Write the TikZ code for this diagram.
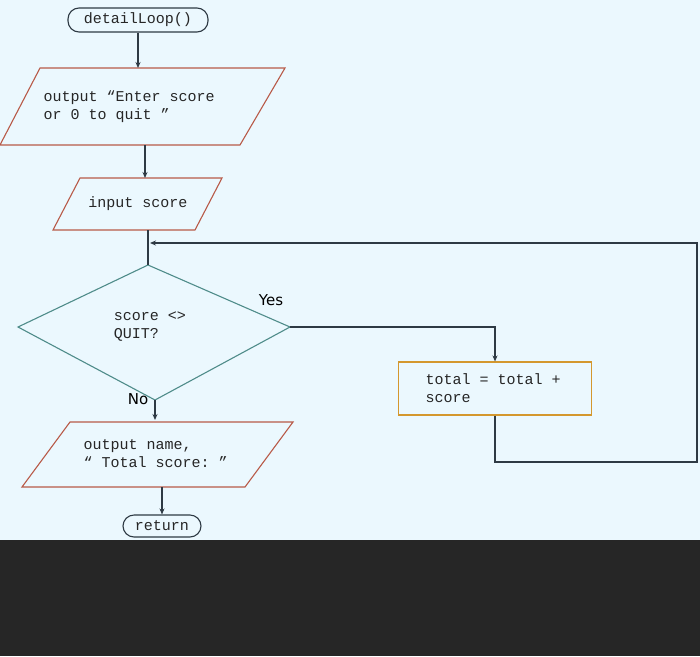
\documentclass[tikz,border=0pt]{standalone}
\usepackage{fontspec}
\setmonofont{Liberation Mono}
\setsansfont{DejaVu Sans}
\usetikzlibrary{arrows.meta}
\definecolor{para}{HTML}{B85A48}
\definecolor{dia}{HTML}{4F8C8A}
\definecolor{proc}{HTML}{D4982E}
\definecolor{line}{HTML}{2E3A44}
\begin{document}
\begin{tikzpicture}[x=1pt,y=-1pt,
  conn/.style={line, line width=1.1pt},
  arr/.style={conn,-{Stealth[length=6pt,width=5pt]}},
  code/.style={font=\ttfamily\fontsize{15}{18}\selectfont, text=black!85, align=left},
  term/.style={draw=line, line width=1.1pt, rounded corners=11pt, minimum height=24pt, code}]
\useasboundingbox (0,0) rectangle (700,656);
\fill[black!80!blue!60!gray] (0,0) rectangle (700,656);
\fill[white!92!cyan] (0,0) rectangle (700,540);
\fill[black!85] (0,540) rectangle (700,656);
% terminator
\node[term, minimum width=140pt] (start) at (138,20) {detailLoop()};
% parallelogram 1
\draw[para, line width=1.1pt] (40,68) -- (285,68) -- (240,145) -- (0,145) -- cycle;
\node[code, anchor=west] (p1) at (40,107) {output “Enter score\\or 0 to quit ”};
\coordinate (p1top) at (138,68);
\coordinate (p1bot) at (145,145);
\draw[arr] (start) -- (p1top);
% parallelogram 2
\draw[para, line width=1.1pt] (80,178) -- (222,178) -- (195,230) -- (53,230) -- cycle;
\node[code] (p2) at (138,204) {input score};
\coordinate (p2top) at (145,178);
\coordinate (p2bot) at (148,230);
\draw[arr] (p1bot) -- (p2top);
% diamond
\coordinate (dt) at (148,265);
\coordinate (dl) at (18,327);
\coordinate (dr) at (290,327);
\coordinate (db) at (155,400);
\draw[dia, line width=1.1pt] (dt) -- (dr) -- (db) -- (dl) -- cycle;
\node[code] (d) at (150,327) {score <>\\QUIT?};
\draw[conn] (p2bot) -- (dt);
% process
\node[draw=proc, line width=1.1pt, minimum width=193pt, minimum height=53pt] (box) at (495,388.5) {};
\node[code, anchor=west] (bt) at (422,388) {total = total +\\score};
\draw[arr] (dr) -- (495,327) -- (box.north);
\node[font=\sffamily\fontsize{15}{18}\selectfont] (yes) at (271,300) {Yes};
% loop back
\coordinate (lp) at (150,243);
\draw[arr] (box.south) -- (495,462) -- (697,462) -- (697,243) -- (lp);
% no
\coordinate (p3top) at (155,420);
\draw[arr] (db) -- (p3top);
\node[font=\sffamily\fontsize{15}{18}\selectfont] (no) at (138,399) {No};
% parallelogram 3
\draw[para, line width=1.1pt] (70,422) -- (293,422) -- (245,487) -- (22,487) -- cycle;
\node[code, anchor=west] (p3) at (80,454) {output name,\\ “ Total score: ”};
\coordinate (p3bot) at (162,487);
% return
\node[term, minimum width=78pt, minimum height=22pt] (ret) at (162,526) {return};
\draw[arr] (p3bot) -- (ret.north);
\end{tikzpicture}
\end{document}
